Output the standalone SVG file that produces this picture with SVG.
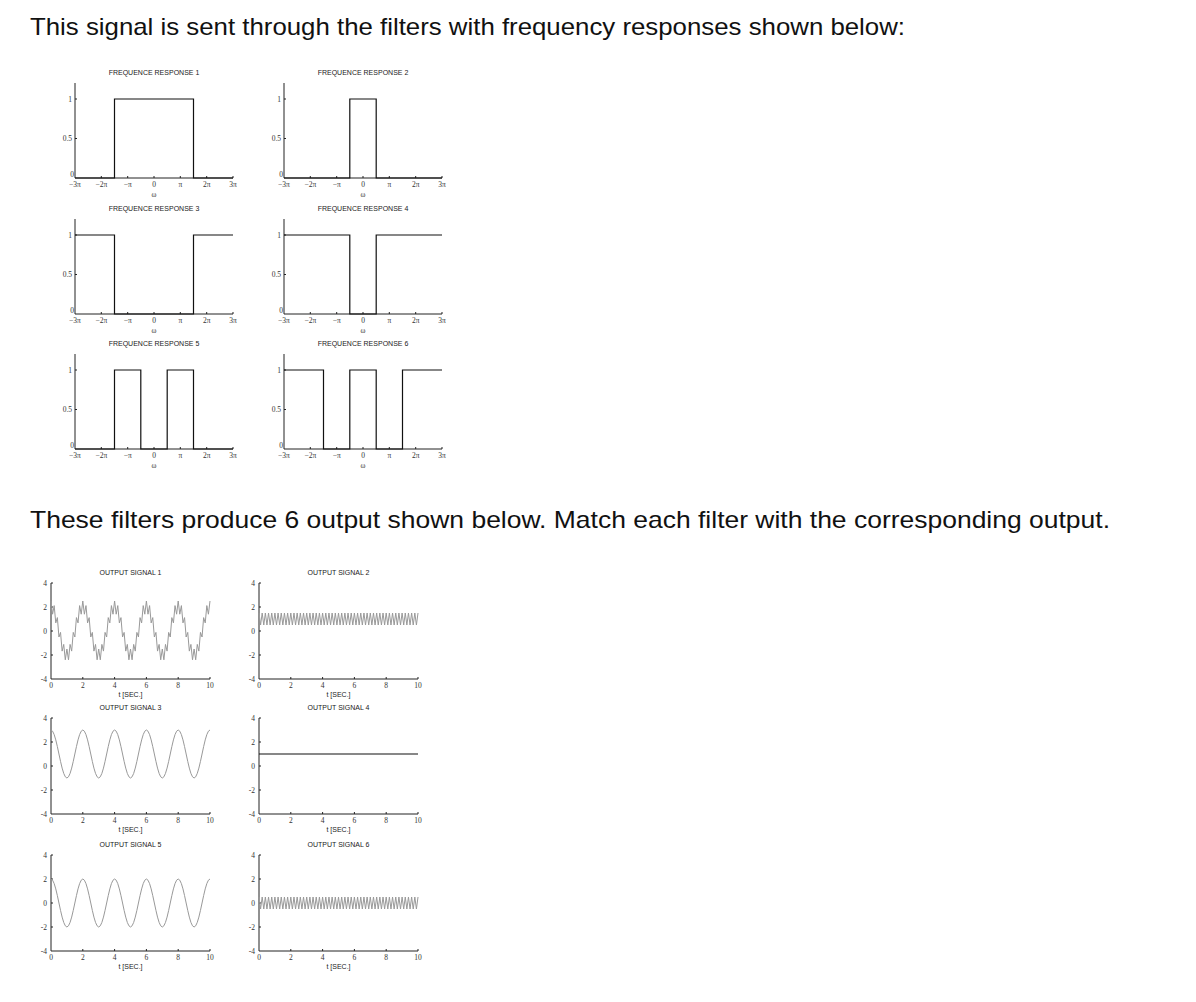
<svg xmlns="http://www.w3.org/2000/svg" xmlns:xlink="http://www.w3.org/1999/xlink" width="1196" height="1002" viewBox="0 0 1196 1002">
<style>
.h{font-family:"Liberation Sans",Arial,sans-serif;font-size:24px;fill:#111}
.t{font-family:"Liberation Sans",Arial,sans-serif;font-size:7px;fill:#222;text-anchor:middle}
.n{font-family:"Liberation Serif",serif;font-size:7.5px;fill:#333;text-anchor:middle}
.ny{font-family:"Liberation Serif",serif;font-size:7.5px;fill:#333;text-anchor:end}
.ax{fill:none;stroke:#222;stroke-width:1}
.sg{fill:none;stroke:#999;stroke-width:1}
.fr{fill:none;stroke:#111;stroke-width:1.2}
</style>
<defs>
<g id="fax">
<path class="ax" d="M0,-95V0H158M0,-79h2M0,-39.5h2M26.3,0v-2M52.7,0v-2M79,0v-2M105.3,0v-2M131.7,0v-2M158,0v-2"/>
<text class="ny" x="-3" y="-76">1</text><text class="ny" x="-3" y="-37">0.5</text><text class="ny" x="-1" y="-1">0</text>
<text class="n" x="0" y="9">−3π</text><text class="n" x="26.3" y="9">−2π</text><text class="n" x="52.7" y="9">−π</text><text class="n" x="79" y="9">0</text><text class="n" x="105.3" y="9">π</text><text class="n" x="131.7" y="9">2π</text><text class="n" x="158" y="9">3π</text>
<text class="n" x="79" y="19">ω</text>
</g>
<g id="oax">
<path class="ax" d="M0,-48V48H159M0,-48h2M0,-24h2M0,0h2M0,24h2M31.8,48v-2M63.6,48v-2M95.4,48v-2M127.2,48v-2M159,48v-2"/>
<text class="ny" x="-4" y="-45">4</text><text class="ny" x="-4" y="-21">2</text><text class="ny" x="-4" y="3">0</text><text class="ny" x="-4" y="27">-2</text><text class="ny" x="-4" y="51">-4</text>
<text class="n" x="0" y="57">0</text><text class="n" x="31.8" y="57">2</text><text class="n" x="63.6" y="57">4</text><text class="n" x="95.4" y="57">6</text><text class="n" x="127.2" y="57">8</text><text class="n" x="159" y="57">10</text>
<text class="t" x="79.5" y="66">t [SEC.]</text>
</g>
<path id="cp" class="sg" d="M0,0L1.59,1.2L3.18,4.6L4.77,9.9L6.36,16.6L7.95,24L9.54,31.4L11.13,38.1L12.72,43.4L14.31,46.8L15.9,48L17.49,46.8L19.08,43.4L20.67,38.1L22.26,31.4L23.85,24L25.44,16.6L27.03,9.9L28.62,4.6L30.21,1.2L31.8,0"/>
<path id="c1" class="sg" d="M0,0L1.59,13.2L3.18,4.6L4.77,21.9L6.36,16.6L7.95,36L9.54,31.4L11.13,50.1L12.72,43.4L14.31,58.8L15.9,48L17.49,58.8L19.08,43.4L20.67,50.1L22.26,31.4L23.85,36L25.44,16.6L27.03,21.9L28.62,4.6L30.21,13.2L31.8,0"/>
<path id="zz" class="sg" d="M0,0l1.59,12l1.59,-12l1.59,12l1.59,-12l1.59,12l1.59,-12l1.59,12l1.59,-12l1.59,12l1.59,-12l1.59,12l1.59,-12l1.59,12l1.59,-12l1.59,12l1.59,-12l1.59,12l1.59,-12l1.59,12l1.59,-12"/>
</defs>
<text class="h" x="30" y="35" textLength="875" lengthAdjust="spacingAndGlyphs">This signal is sent through the filters with frequency responses shown below:</text>
<text class="h" x="30" y="528" textLength="1080" lengthAdjust="spacingAndGlyphs">These filters produce 6 output shown below.  Match each filter with the corresponding output.</text>

<g id="fr1" transform="translate(75,178)"><use xlink:href="#fax"/><text class="t" x="79" y="-103">FREQUENCE RESPONSE 1</text><path class="fr" d="M0,0H39.5V-79H118.5V0H158"/></g>
<g id="fr2" transform="translate(284,178)"><use xlink:href="#fax"/><text class="t" x="79" y="-103">FREQUENCE RESPONSE 2</text><path class="fr" d="M0,0H65.8V-79H92.2V0H158"/></g>
<g id="fr3" transform="translate(75,314)"><use xlink:href="#fax"/><text class="t" x="79" y="-103">FREQUENCE RESPONSE 3</text><path class="fr" d="M0,-79H39.5V0H118.5V-79H158"/></g>
<g id="fr4" transform="translate(284,314)"><use xlink:href="#fax"/><text class="t" x="79" y="-103">FREQUENCE RESPONSE 4</text><path class="fr" d="M0,-79H65.8V0H92.2V-79H158"/></g>
<g id="fr5" transform="translate(75,449)"><use xlink:href="#fax"/><text class="t" x="79" y="-103">FREQUENCE RESPONSE 5</text><path class="fr" d="M0,0H39.5V-79H65.8V0H92.2V-79H118.5V0H158"/></g>
<g id="fr6" transform="translate(284,449)"><use xlink:href="#fax"/><text class="t" x="79" y="-103">FREQUENCE RESPONSE 6</text><path class="fr" d="M0,-79H39.5V0H65.8V-79H92.2V0H118.5V-79H158"/></g>

<g id="os1" transform="translate(51,631)"><use xlink:href="#oax"/><text class="t" x="79.5" y="-56">OUTPUT SIGNAL 1</text>
<use xlink:href="#c1" y="-30"/><use xlink:href="#c1" x="31.8" y="-30"/><use xlink:href="#c1" x="63.6" y="-30"/><use xlink:href="#c1" x="95.4" y="-30"/><use xlink:href="#c1" x="127.2" y="-30"/></g>
<g id="os2" transform="translate(259,631)"><use xlink:href="#oax"/><text class="t" x="79.5" y="-56">OUTPUT SIGNAL 2</text>
<use xlink:href="#zz" y="-18"/><use xlink:href="#zz" x="31.8" y="-18"/><use xlink:href="#zz" x="63.6" y="-18"/><use xlink:href="#zz" x="95.4" y="-18"/><use xlink:href="#zz" x="127.2" y="-18"/></g>
<g id="os3" transform="translate(51,766)"><use xlink:href="#oax"/><text class="t" x="79.5" y="-56">OUTPUT SIGNAL 3</text>
<use xlink:href="#cp" y="-36"/><use xlink:href="#cp" x="31.8" y="-36"/><use xlink:href="#cp" x="63.6" y="-36"/><use xlink:href="#cp" x="95.4" y="-36"/><use xlink:href="#cp" x="127.2" y="-36"/></g>
<g id="os4" transform="translate(259,766)"><use xlink:href="#oax"/><text class="t" x="79.5" y="-56">OUTPUT SIGNAL 4</text>
<path class="fr" d="M0,-12H159"/></g>
<g id="os5" transform="translate(51,903)"><use xlink:href="#oax"/><text class="t" x="79.5" y="-56">OUTPUT SIGNAL 5</text>
<use xlink:href="#cp" y="-24"/><use xlink:href="#cp" x="31.8" y="-24"/><use xlink:href="#cp" x="63.6" y="-24"/><use xlink:href="#cp" x="95.4" y="-24"/><use xlink:href="#cp" x="127.2" y="-24"/></g>
<g id="os6" transform="translate(259,903)"><use xlink:href="#oax"/><text class="t" x="79.5" y="-56">OUTPUT SIGNAL 6</text>
<use xlink:href="#zz" y="-6"/><use xlink:href="#zz" x="31.8" y="-6"/><use xlink:href="#zz" x="63.6" y="-6"/><use xlink:href="#zz" x="95.4" y="-6"/><use xlink:href="#zz" x="127.2" y="-6"/></g>
</svg>
